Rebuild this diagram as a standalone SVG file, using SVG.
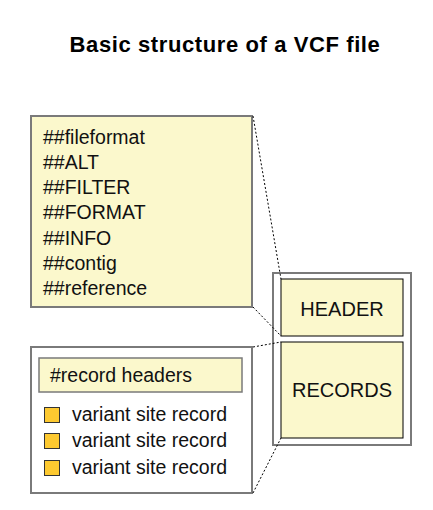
<svg xmlns="http://www.w3.org/2000/svg" width="433" height="510" viewBox="0 0 433 510">
<style>
.t{font-family:"Liberation Sans",Arial,sans-serif;font-size:19.5px;fill:#111}
.big{font-family:"Liberation Sans",Arial,sans-serif;font-size:20px;fill:#111;text-anchor:middle}
.title{font-family:"Liberation Sans",Arial,sans-serif;font-size:22px;font-weight:bold;fill:#000;text-anchor:middle;letter-spacing:0.6px}
.panel{fill:#fbf8cc;stroke:#7a7a7a;stroke-width:2}
.wpanel{fill:#fff;stroke:#7a7a7a;stroke-width:2}
.inner{fill:#fbf8cc;stroke:#000;stroke-width:1}
.sq{fill:#fdc930;stroke:#333;stroke-width:1}
.dot{fill:none;stroke:#000;stroke-width:1;stroke-dasharray:2,2}
</style>
<text class="title" x="225" y="52">Basic structure of a VCF file</text>
<g id="header-detail">
<rect class="panel" x="31" y="116" width="221" height="191"/>
<text class="t" x="43" y="144">##fileformat</text>
<text class="t" x="43" y="169">##ALT</text>
<text class="t" x="43" y="194">##FILTER</text>
<text class="t" x="43" y="219">##FORMAT</text>
<text class="t" x="43" y="245">##INFO</text>
<text class="t" x="43" y="270">##contig</text>
<text class="t" x="43" y="295">##reference</text>
</g>
<g id="records-detail">
<rect class="wpanel" x="31" y="347" width="221" height="146"/>
<rect class="panel" x="39" y="358" width="203" height="34" style="stroke-width:1.5"/>
<text class="t" x="50" y="382">#record headers</text>
<rect class="sq" x="44.5" y="407.5" width="15" height="15"/>
<rect class="sq" x="44.5" y="433.5" width="15" height="15"/>
<rect class="sq" x="44.5" y="460.5" width="15" height="15"/>
<text class="t" x="72" y="421">variant site record</text>
<text class="t" x="72" y="447">variant site record</text>
<text class="t" x="72" y="474">variant site record</text>
</g>
<g id="vcf-file">
<rect class="wpanel" x="273" y="273" width="138" height="172"/>
<rect class="inner" x="281" y="279" width="122" height="57"/>
<text class="big" x="342" y="316">HEADER</text>
<rect class="inner" x="281" y="342" width="122" height="96"/>
<text class="big" x="342" y="397">RECORDS</text>
</g>
<g id="connectors">
<line class="dot" x1="253" y1="116" x2="281" y2="279"/>
<line class="dot" x1="253" y1="307" x2="281" y2="336"/>
<line class="dot" x1="253" y1="347" x2="281" y2="342"/>
<line class="dot" x1="253" y1="493" x2="281" y2="438"/>
</g>
</svg>
